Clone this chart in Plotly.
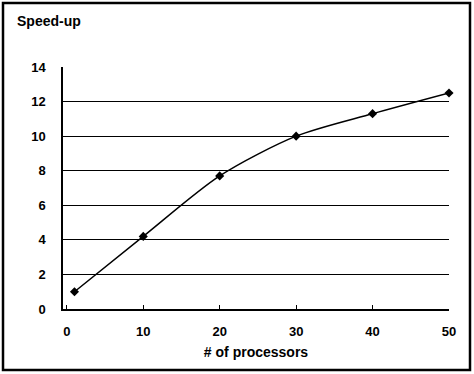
import plotly.graph_objects as go

processors = [1, 10, 20, 30, 40, 50]
speedup = [1.0, 4.2, 7.7, 10.0, 11.3, 12.5]
x_ticks = [0, 10, 20, 30, 40, 50]
y_ticks = [0, 2, 4, 6, 8, 10, 12, 14]

FONT = "Liberation Sans"
L, R, T, B = 63, 25, 67, 65
W, H = 474, 374
pw, ph = W - L - R, H - T - B

fig = go.Figure()
fig.add_trace(go.Scatter(
    x=processors, y=speedup, mode="lines+markers",
    line=dict(color="black", width=1.5, shape="spline", smoothing=0.8),
    marker=dict(symbol="diamond", size=7, color="black"),
    cliponaxis=False, showlegend=False,
))

fig.update_layout(
    width=W, height=H,
    margin=dict(l=L, r=R, t=T, b=B),
    paper_bgcolor="white", plot_bgcolor="white",
    font=dict(family=FONT, size=12, color="black"),
    xaxis=dict(range=[-0.5, 50], tickvals=x_ticks, showgrid=False,
               showline=True, linecolor="black", linewidth=1.5,
               ticks="inside", ticklen=4, tickcolor="black",
               zeroline=False, tickfont=dict(size=13, family=FONT, weight="bold"),
               ticklabelstandoff=10,
               title=dict(text="<b># of processors</b>", standoff=9,
                          font=dict(size=14, family=FONT))),
    yaxis=dict(range=[0, 14], tickvals=y_ticks, showgrid=True,
               gridcolor="black", gridwidth=1.2,
               showline=True, linecolor="black", linewidth=1.5,
               ticks="inside", ticklen=4, tickcolor="black",
               zeroline=False, tickfont=dict(size=13, family=FONT, weight="bold"),
               ticklabelstandoff=13),
    annotations=[dict(text="<b>Speed-up</b>", xref="paper", yref="paper",
                      x=(15 - L) / pw, y=(309 - 21) / ph, xanchor="left",
                      yanchor="middle", showarrow=False,
                      font=dict(size=14, family=FONT))],
    shapes=[dict(type="rect", xref="paper", yref="paper",
                 x0=(3 - L) / pw, x1=(470 - L) / pw,
                 y0=(309 - 370) / ph, y1=(309 - 3) / ph,
                 line=dict(color="black", width=2.5))],
)
fig.write_html("out.html", config={"displayModeBar": False},
               post_script="document.body.style.margin='0';")
